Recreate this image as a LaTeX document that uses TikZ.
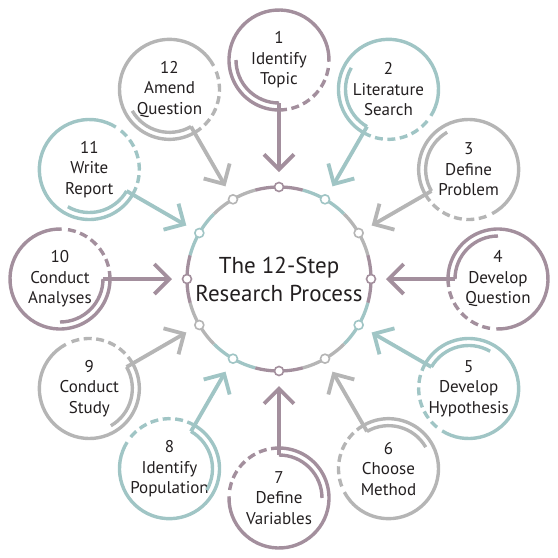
\documentclass[tikz,border=0pt]{standalone}
\usepackage{fontspec}
\setmainfont{PT Sans}
\usetikzlibrary{arrows.meta}
\definecolor{cP}{HTML}{A38F9D}
\definecolor{cT}{HTML}{A0C5C5}
\definecolor{cG}{HTML}{B5B5B5}
\definecolor{ink}{HTML}{231F20}
\begin{document}
\begin{tikzpicture}[x=1pt,y=1pt,
  steplabel/.style={circle, minimum size=100pt, inner sep=0pt, align=center,
    font=\fontsize{17}{20.5}\selectfont, text=ink},
  ringline/.style={line width=3.4pt},
  dashedarc/.style={line width=3.4pt, dash pattern=on 8pt off 4.5pt},
  arrowline/.style={line width=3.8pt, -{Straight Barb[sharp,length=15pt,width=30pt]}},
  cring/.style={line width=3.3pt},
  ringdot/.style={circle, fill=white, line width=1.6pt, minimum size=9pt, inner sep=0pt},
  centrelabel/.style={align=center, font=\fontsize{23}{28}\selectfont, text=ink}
]
\useasboundingbox (-279,-279) rectangle (279,279);
\node[centrelabel] (centre) at (0,0) {The 12-Step\\Research Process};
\foreach \k/\txt/\col in {
  1/{Identify\\Topic}/cP,
  2/{Literature\\Search}/cT,
  3/{Define\\Problem}/cG,
  4/{Develop\\Question}/cP,
  5/{Develop\\Hypothesis}/cT,
  6/{Choose\\Method}/cG,
  7/{Define\\Variables}/cP,
  8/{Identify\\Population}/cT,
  9/{Conduct\\Study}/cG,
  10/{Conduct\\Analyses}/cP,
  11/{Write\\Report}/cT,
  12/{Amend\\Question}/cG}{
  \pgfmathsetmacro\th{90-30*(\k-1)}
  \pgfmathsetmacro\ph{\th+180}
  \node[steplabel] (s\k) at (\th:219) {\k\\\txt};
  \draw[ringline,\col] ([shift={(\ph+88:50)}]s\k.center)
     arc[start angle=\ph+88, end angle=\ph+360, radius=50];
  \draw[dashedarc,\col] ([shift={(\ph:50)}]s\k.center)
     arc[start angle=\ph, end angle=\ph+84, radius=50];
  \draw[ringline,\col] ([shift={(\ph-90:43)}]s\k.center)
     arc[start angle=\ph-90, end angle=\ph, radius=43];
  \coordinate (a\k) at ([shift={(\ph:43)}]s\k.center);
  \coordinate (t\k) at (\th:107);
  \draw[arrowline,\col] (a\k) -- (t\k);
  \draw[cring,\col] (\th-15:92) arc[start angle=\th-15, end angle=\th+15, radius=92];
}
\foreach \k/\col in {1/cP,2/cT,3/cG,4/cP,5/cT,6/cG,7/cP,8/cT,9/cG,10/cP,11/cT,12/cG}{
  \pgfmathsetmacro\th{90-30*(\k-1)}
  \node[ringdot, draw=\col] (d\k) at (\th:92) {};
}
\end{tikzpicture}
\end{document}
